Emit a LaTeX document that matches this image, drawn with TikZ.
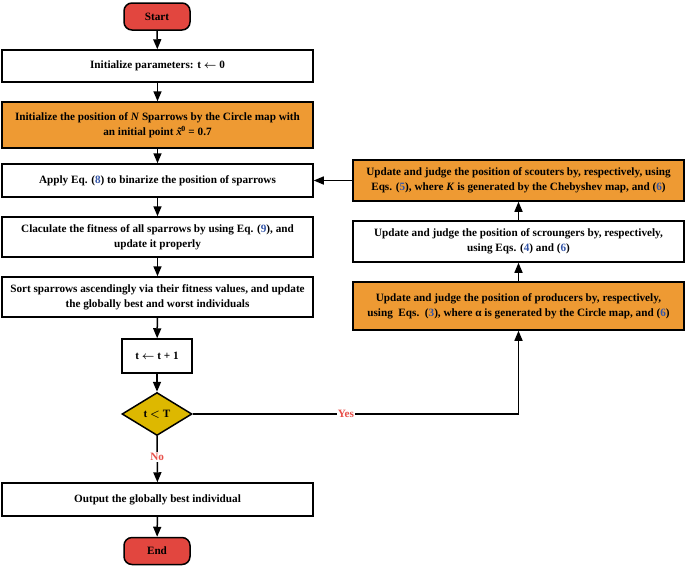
\documentclass[tikz,border=0pt]{standalone}
\usepackage{fontspec}
\setmainfont{Liberation Serif}
\usetikzlibrary{shapes.geometric,arrows.meta}
\definecolor{orng}{HTML}{EE9A33}
\definecolor{redb}{HTML}{E2463F}
\definecolor{yel}{HTML}{DDB800}
\definecolor{eqb}{HTML}{3556A8}
\definecolor{lbl}{HTML}{E8504A}
\newcommand{\eqn}[1]{(\textcolor{eqb}{#1})}
\begin{document}
\begin{tikzpicture}[x=1pt,y=-1pt,
  every node/.style={font=\bfseries\boldmath\fontsize{11.2}{15}\selectfont, align=center, inner sep=0pt},
  box/.style={draw, line width=1.5pt, rectangle, minimum height=#1},
  obox/.style={box=#1, fill=orng},
  term/.style={draw, line width=1.5pt, rounded corners=8pt, fill=redb, minimum width=66pt, minimum height=27pt},
  arr/.style={line width=1.5pt, -{Triangle[width=8pt,length=10pt]}},
  yn/.style={text=lbl, fill=white, inner sep=1pt}]
\useasboundingbox (0,0) rectangle (685,566);
\node[term] (start) at (157,16.5) {Start};
\node[box=32pt, minimum width=311pt] (init) at (157.5,66) {Initialize parameters: t $\leftarrow$ 0};
\node[obox=46pt, minimum width=311pt] (circ) at (157.5,125) {Initialize the position of \textit{N} Sparrows by the Circle map with\\an initial point {\itshape x\char"0303}\kern-0.8pt\textsuperscript{0} = 0.7};
\node[box=33pt, minimum width=311pt] (apply) at (157.5,180.5) {Apply Eq. \eqn{8} to binarize the position of sparrows};
\node[box=40pt, minimum width=311pt] (fit) at (157.5,237) {Claculate the fitness of all sparrows by using Eq. \eqn{9}, and\\update it properly};
\node[box=40pt, minimum width=311pt] (sort) at (157.5,297) {Sort sparrows ascendingly via their fitness values, and update\\the globally best and worst individuals};
\node[box=34pt, minimum width=70pt] (inc) at (157,356) {t $\leftarrow$ t + 1};
\node[diamond, draw, line width=1.5pt, fill=yel, minimum width=70pt, minimum height=43pt, aspect=1.63] (dia) at (157,414) {t $<$ T};
\node[box=33pt, minimum width=311pt] (out) at (157.5,499.5) {Output the globally best individual};
\node[term] (end) at (157,551) {End};
\node[obox=41pt, minimum width=331pt] (scout) at (518.5,180.5) {Update and judge the position of scouters by, respectively, using\\Eqs. \eqn{5}, where \textit{K} is generated by the Chebyshev map, and \eqn{6}};
\node[box=41pt, minimum width=331pt] (scr) at (518.5,241.5) {Update and judge the position of scroungers by, respectively,\\using Eqs. \eqn{4} and \eqn{6}};
\node[obox=48pt, minimum width=331pt] (prod) at (518.5,306) {Update and judge the position of producers by, respectively,\\using\ \ Eqs.\ \ \eqn{3}, where α is generated by the Circle map, and \eqn{6}};
\draw[arr] (start) -- (init);
\draw[arr] (init) -- (circ);
\draw[arr] (circ) -- (apply);
\draw[arr] (apply) -- (fit);
\draw[arr] (fit) -- (sort);
\draw[arr] (sort) -- (inc);
\draw[arr] (inc) -- (dia);
\draw[arr] (dia) -- node[yn, pos=0.45] (no) {No} (out);
\draw[arr] (out) -- (end);
\draw[arr] (dia.east) -- node[yn, pos=0.47] (yes) {Yes} (prod.south |- dia.east) -- (prod.south);
\draw[arr] (prod) -- (scr);
\draw[arr] (scr) -- (scout);
\draw[arr] (scout.west) -- (apply.east);
\end{tikzpicture}
\end{document}
